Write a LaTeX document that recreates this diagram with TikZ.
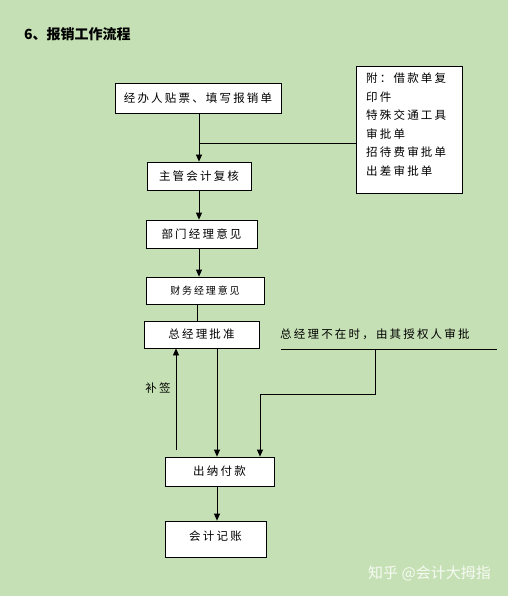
\documentclass[tikz,border=0pt]{standalone}
\usepackage{fontspec}
\usetikzlibrary{arrows.meta}
\newfontfamily\cjk[LetterSpace=19]{Noto Sans CJK SC}
\newfontfamily\cjkplain{Noto Sans CJK SC}
\definecolor{bg}{HTML}{C5E0B4}
\tikzset{
  box/.style={draw=black, line width=0.8pt, fill=white, inner sep=0pt,
    font=\cjk\fontsize{11.5}{13}\selectfont},
  lbl/.style={inner sep=0pt, font=\cjk\fontsize{11.5}{13}\selectfont},
  arr/.style={line width=0.8pt, -{Triangle[length=7pt,width=6pt]}},
  ln/.style={line width=0.8pt}
}
\begin{document}
\begin{tikzpicture}[x=1pt,y=-1pt]
\useasboundingbox (0,0) rectangle (508,596);
\fill[bg] (0,0) rectangle (508,596);
% title
\node[anchor=west, inner sep=0pt, font=\cjkplain\bfseries\fontsize{14}{16}\selectfont] (title) at (24,34) {6、报销工作流程};
% boxes
\node[box, minimum width=166pt, minimum height=30pt] (b1) at (198,98) {经办人贴票、填写报销单};
\node[box, minimum width=104pt, minimum height=28pt] (b2) at (199,176) {主管会计复核};
\node[box, minimum width=111pt, minimum height=28pt] (b3) at (201.5,234) {部门经理意见};
\node[box, minimum width=118pt, minimum height=27pt, font=\cjk\fontsize{10}{12}\selectfont] (b4) at (205,290.5) {财务经理意见};
\node[box, minimum width=115pt, minimum height=27pt] (b5) at (201.5,334.5) {总经理批准};
\node[box, minimum width=109pt, minimum height=29pt] (b6) at (219.5,471.5) {出纳付款};
\node[box, minimum width=101pt, minimum height=36pt, text depth=6pt] (b7) at (215.5,539) {会计记账};
% attachment box
\node[draw=black, line width=0.8pt, fill=white, anchor=north west, minimum width=106pt, minimum height=127pt, inner sep=0pt] (attach) at (356,66) {};
\node[lbl, anchor=north west, align=left, font=\cjk\fontsize{11.5}{18.5}\selectfont] (attachtext) at (366,73) {附：借款单复\\印件\\特殊交通工具\\审批单\\招待费审批单\\出差审批单};
% side note
\node[lbl, anchor=west] (note) at (280,334) {总经理不在时，由其授权人审批};
\node[lbl] (bq) at (158,388) {补签};
% watermark
\node[inner sep=0pt, anchor=west, text=white, opacity=0.85, font=\cjkplain\fontsize{15}{17}\selectfont] (wm) at (368,573) {知乎 @会计大拇指};
% coordinates
\coordinate (j1) at (199,143);
\coordinate (nl) at (281,349);
\coordinate (nr) at (497,349);
\coordinate (nd) at (375,349);
\coordinate (nc) at (375,394);
\coordinate (nb) at (260,394);
\coordinate (bqs) at (176,450);
% connectors
\draw[arr] (b1.south -| j1) -- (b2.north -| j1);
\draw[ln] (attach.west |- j1) -- (j1);
\draw[arr] (b2.south -| j1) -- (b3.north -| j1);
\draw[arr] (b3.south -| j1) -- (b4.north -| j1);
\draw[ln] (b4.south -| 197,0) -- (b5.north -| 197,0);
\draw[arr] (b5.south -| 217,0) -- (b6.north -| 217,0);
\draw[arr] (bqs) -- (b5.south -| bqs);
\draw[ln] (nl) -- (nr);
\draw[arr] (nd) -- (nc) -- (nb) -- (b6.north -| nb);
\draw[arr] (b6.south -| 217,0) -- (b7.north -| 217,0);
\end{tikzpicture}
\end{document}
